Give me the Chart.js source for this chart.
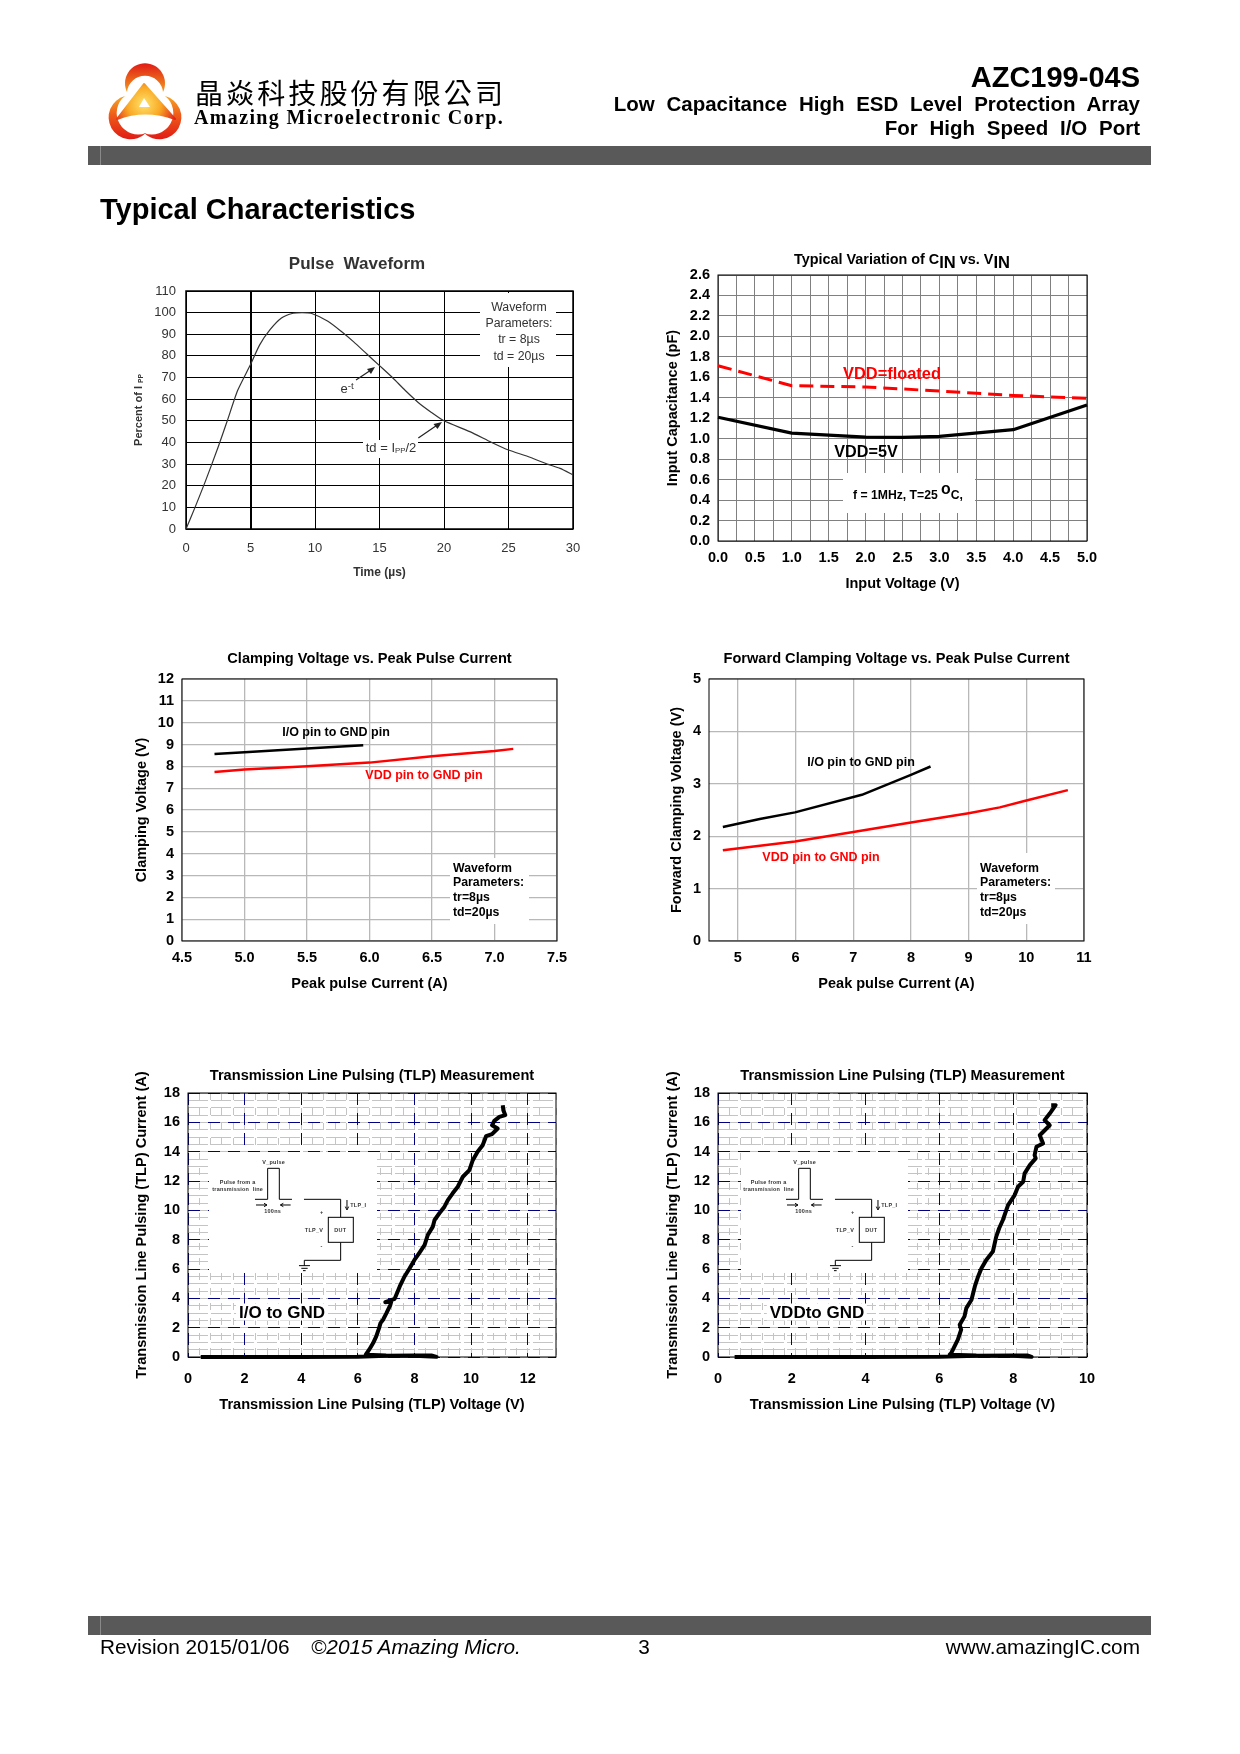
<!DOCTYPE html>
<html>
<head>
<meta charset="utf-8">
<title>AZC199-04S Typical Characteristics</title>
<script src="https://cdn.jsdelivr.net/npm/chart.js@4"></script>
<style>
  html, body { margin: 0; padding: 0; background: #fff; }
  #page { position: relative; width: 1240px; height: 1754px; overflow: hidden; font-family: "Liberation Sans", Arial, sans-serif; color: #000; }
  canvas { position: absolute; z-index: 1; }
  .patch { position: absolute; background: #fff; z-index: 2; }
  #art { position: absolute; left: 0; top: 0; z-index: 3; }
  .note { position: absolute; white-space: nowrap; z-index: 4; line-height: 1; }
  .band { position: absolute; left: 88px; width: 1063px; height: 19px; background: #595959; }
  .band i { position: absolute; left: 12px; top: 0; width: 1px; height: 19px; background: #8a8a8a; }
</style>
</head>
<body>
<div id="page">
  <div class="band" style="top:146px"><i></i></div>
  <div class="band" style="top:1616px"><i></i></div>
  <svg id="art" width="1240" height="1754" viewBox="0 0 1240 1754"></svg>
</div>
<script>
// Pulse waveform
const pulseTime = [0, 0.7, 1.5, 2.5, 3.2, 4, 5, 5.7, 6.5, 7.4, 8.3, 9, 9.7, 11, 12, 13, 14, 15, 16, 17, 18, 19, 20, 22, 23.7, 25, 26.5, 28, 29, 30];
const pulsePercent = [0, 10, 22, 38, 50, 64, 76, 85, 92, 97.5, 99.7, 100, 99.7, 96, 91.5, 86.5, 81, 75.5, 70, 64, 58.5, 54, 50, 45, 40, 36.5, 33.5, 30, 28, 25];

// Input capacitance
const capVoltage = [0, 1, 2, 2.5, 3, 4, 5];
const capVdd5 = [1.21, 1.055, 1.016, 1.013, 1.023, 1.088, 1.33];
const floatVoltage = [0, 1, 2, 3, 4, 5];
const capFloated = [1.713, 1.518, 1.505, 1.466, 1.423, 1.394];

// Clamping voltage
const clampIoCurrent = [4.76, 5.0, 5.5, 5.95];
const clampIoVolts = [8.57, 8.65, 8.82, 8.97];
const clampVddCurrent = [4.76, 5.0, 5.5, 6.0, 6.5, 7.0, 7.15];
const clampVddVolts = [7.74, 7.85, 8.0, 8.17, 8.46, 8.7, 8.8];

// Forward clamping voltage
const fwdIoCurrent = [4.74, 5.38, 5.99, 7.15, 8.0, 8.34];
const fwdIoVolts = [2.175, 2.33, 2.455, 2.79, 3.17, 3.33];
const fwdVddCurrent = [4.74, 5.99, 7.0, 8.0, 9.0, 9.54, 10.0, 10.72];
const fwdVddVolts = [1.73, 1.9, 2.08, 2.26, 2.44, 2.55, 2.68, 2.88];

// TLP, I/O to GND
const tlpIoVolts = [0.45, 2, 4, 6, 7, 8, 8.6, 8.78, 8, 7, 6.28, 6.40, 6.54, 6.65, 6.75, 6.80, 6.89, 7.01, 7.15, 7.18, 6.97, 7.30, 7.36, 7.48, 7.65, 7.83, 8.00, 8.18, 8.36, 8.47, 8.65, 8.71, 8.88, 9.06, 9.18, 9.35, 9.53, 9.71, 9.94, 10.06, 10.23, 10.41, 10.50, 10.53, 10.74, 10.94, 10.74, 10.82, 11.0, 11.21, 11.14, 11.12];
const tlpIoAmps = [0, 0, 0, 0.01, 0.08, 0.1, 0.1, 0.01, 0.08, 0.1, 0.16, 0.50, 0.95, 1.41, 1.97, 2.31, 2.54, 2.99, 3.56, 3.79, 3.74, 3.97, 4.24, 4.81, 5.49, 6.05, 6.62, 7.12, 7.64, 8.32, 8.89, 9.34, 9.80, 10.25, 10.70, 11.16, 11.61, 12.29, 12.74, 13.42, 13.99, 14.44, 14.90, 15.06, 15.19, 15.58, 15.80, 16.10, 16.37, 16.49, 16.83, 17.17];

// TLP, VDD to GND
const tlpVddVolts = [0.45, 2, 4, 6, 7, 8, 8.4, 8.5, 8, 7, 6.28, 6.32, 6.41, 6.50, 6.59, 6.55, 6.68, 6.73, 6.87, 6.96, 7.05, 7.14, 7.27, 7.45, 7.54, 7.62, 7.72, 7.86, 8.04, 8.13, 8.27, 8.31, 8.45, 8.61, 8.58, 8.63, 8.81, 8.72, 8.99, 8.85, 8.99, 9.15, 9.03];
const tlpVddAmps = [0, 0, 0, 0.01, 0.08, 0.1, 0.1, 0.01, 0.08, 0.1, 0.16, 0.27, 0.73, 1.18, 1.86, 2.20, 2.77, 3.33, 3.90, 4.81, 5.49, 6.05, 6.62, 7.19, 8.21, 8.78, 9.34, 10.36, 11.04, 11.61, 11.95, 12.52, 13.08, 13.54, 13.76, 14.33, 14.56, 15.12, 15.80, 16.15, 16.60, 17.17, 17.17];

const FONT = 'Liberation Sans';
const page = document.getElementById('page');
const art = document.getElementById('art');

function xy(xs, ys) {
  return xs.map((x, i) => ({ x: x, y: ys[i] }));
}

function series(xs, ys, color, width, dash, tension) {
  return {
    data: xy(xs, ys), borderColor: color, borderWidth: width, borderDash: dash || [],
    showLine: true, pointRadius: 0, tension: tension || 0, borderJoinStyle: 'round', borderCapStyle: 'butt', clip: false
  };
}

// black frame round the plot
const framePlugin = {
  id: 'frame',
  beforeDatasetsDraw(chart, args, opts) {
    const a = chart.chartArea, c = chart.ctx;
    c.save();
    c.strokeStyle = opts.color || '#000';
    c.lineWidth = opts.width || 1;
    c.strokeRect(a.left, a.top, a.right - a.left, a.bottom - a.top);
    c.restore();
  }
};

// c: plot box l,r,t,b, titleY, xTitleY, yTitleX plus axes
function makeChart(c) {
  const tf = c.titleSize || 14, af = c.axisSize || 14.5, tick = c.tickSize || 14.5;
  const left = c.canvasLeft !== undefined ? c.canvasLeft : Math.round(c.yTitleX - 0.6 * af);
  const top = Math.round(c.titleY - 0.6 * tf);
  const bottom = Math.round(c.xTitleY + 0.6 * af);
  const right = c.r + 26;
  const el = document.createElement('canvas');
  el.width = right - left;
  el.height = bottom - top;
  el.style.left = left + 'px';
  el.style.top = top + 'px';
  page.appendChild(el);

  const fitY = s => { s.width = c.l - left; s.paddingTop = s.paddingBottom = s.paddingLeft = s.paddingRight = 0; };
  const fitX = s => { s.height = bottom - c.b; s.paddingTop = s.paddingBottom = s.paddingLeft = s.paddingRight = 0; };
  const fitNone = s => { s.width = 0; s.height = 0; s.paddingTop = s.paddingBottom = s.paddingLeft = s.paddingRight = 0; };

  const scales = {
    x: {
      type: 'linear', min: c.xMin, max: c.xMax, afterFit: fitX,
      ticks: {
        stepSize: c.xStep, autoSkip: false, maxRotation: 0, includeBounds: false,
        padding: c.xTickPad === undefined ? 8 : c.xTickPad, color: c.tickColor || '#000',
        font: { family: FONT, size: tick, weight: c.tickWeight || 'bold' },
        callback: c.xLabel || (v => v)
      },
      grid: { color: c.xGridColor || c.gridColor, lineWidth: c.xGridWidth || c.gridWidth || 1, drawTicks: false },
      border: { display: false, dash: c.majorDash || [] },
      title: { display: true, text: c.xTitle, color: c.axisColor || '#000', padding: 0, font: { family: FONT, size: af, weight: 'bold' } }
    },
    y: {
      type: 'linear', min: c.yMin, max: c.yMax, afterFit: fitY,
      ticks: {
        stepSize: c.yStep, autoSkip: false, includeBounds: false,
        padding: c.yTickPad === undefined ? 8 : c.yTickPad, color: c.tickColor || '#000',
        font: { family: FONT, size: tick, weight: c.tickWeight || 'bold' },
        callback: c.yLabel || (v => v)
      },
      grid: { color: c.gridColor, lineWidth: c.gridWidth || 1, drawTicks: false },
      border: { display: false, dash: c.majorDash || [] },
      title: { display: !!c.yTitle, text: c.yTitle, color: c.axisColor || '#000', padding: 0, font: { family: FONT, size: af, weight: 'bold' } }
    }
  };
  if (c.minorXStep) {
    scales.x2 = {
      type: 'linear', position: 'bottom', min: c.xMin, max: c.xMax, afterFit: fitNone,
      ticks: { display: false, stepSize: c.minorXStep, autoSkip: false },
      grid: { color: '#c4c4c4', lineWidth: 1, drawTicks: false, z: -2 },
      border: { display: false, dash: [7, 8] }
    };
    scales.y2 = {
      type: 'linear', position: 'left', min: c.yMin, max: c.yMax, afterFit: fitNone,
      ticks: { display: false, stepSize: c.minorYStep, autoSkip: false },
      grid: { color: '#c4c4c4', lineWidth: 1, drawTicks: false, z: -2 },
      border: { display: false, dash: [20, 3] }
    };
  }

  const titleBlock = 1.2 * tf;
  return new Chart(el.getContext('2d'), {
    type: 'scatter',
    data: { datasets: c.datasets },
    options: {
      responsive: false, animation: false, events: [],
      layout: { padding: { left: 0, right: right - c.r, bottom: 0, top: c.title ? 0 : c.t - top } },
      plugins: {
        legend: { display: false },
        tooltip: { enabled: false },
        frame: { color: '#000', width: c.frameWidth || 1 },
        title: {
          display: !!c.title, text: c.title, fullSize: !!c.titleFull, color: c.titleColor || '#000',
          padding: { top: 0, bottom: c.t - top - titleBlock },
          font: { family: FONT, size: tf, weight: 'bold' }
        }
      },
      scales: scales
    },
    plugins: [framePlugin]
  });
}

function note(html, x, y, o) {
  o = o || {};
  const d = document.createElement('div');
  d.className = 'note';
  d.innerHTML = html;
  const ax = { left: '0', center: '-50%', right: '-100%' }[o.align || 'center'];
  d.style.left = x + 'px';
  d.style.top = y + 'px';
  d.style.transform = 'translate(' + ax + ',-50%)' + (o.rotate ? ' rotate(' + o.rotate + 'deg)' : '');
  d.style.fontSize = (o.size || 12) + 'px';
  d.style.fontWeight = o.weight || 'bold';
  d.style.color = o.color || '#000';
  if (o.family) d.style.fontFamily = o.family;
  if (o.italic) d.style.fontStyle = 'italic';
  if (o.word) d.style.wordSpacing = o.word + 'px';
  if (o.spacing) d.style.letterSpacing = o.spacing + 'px';
  if (o.bg) { d.style.background = o.bg; d.style.padding = '0 3px'; }
  page.appendChild(d);
}

function patch(x1, y1, x2, y2) {
  const d = document.createElement('div');
  d.className = 'patch';
  d.style.cssText = 'left:' + x1 + 'px;top:' + y1 + 'px;width:' + (x2 - x1) + 'px;height:' + (y2 - y1) + 'px';
  page.appendChild(d);
}

// chart 1
makeChart({
  canvasLeft: 141, titleFull: true,
  l: 186, r: 573, t: 291, b: 529,
  title: 'Pulse  Waveform', titleSize: 17, titleY: 264, titleColor: '#333',
  xTitle: 'Time (\u00b5s)', axisSize: 12, xTitleY: 573, axisColor: '#333',
  tickSize: 13, tickWeight: 'normal', tickColor: '#333', xTickPad: 12, yTickPad: 10, frameWidth: 1.5,
  xMin: 0, xMax: 30, xStep: 5, yMin: 0, yMax: 110, yStep: 10,
  gridColor: '#000',
  xGridColor: ctx => '#000',
  xGridWidth: ctx => (ctx.tick && ctx.tick.value === 5 ? 2 : 1),
  datasets: [series(pulseTime, pulsePercent, '#333', 1.2, null, 0.2)]
});

// chart 2
makeChart({
  l: 718, r: 1087, t: 275, b: 541,
  titleY: 260, xTitleY: 584, yTitleX: 673,
  xTitle: 'Input Voltage (V)', yTitle: 'Input Capacitance (pF)',
  xMin: 0, xMax: 5, xStep: 0.25, yMin: 0, yMax: 2.6, yStep: 0.2,
  xLabel: v => (Math.round(v * 4) % 2 === 0 ? v.toFixed(1) : ''),
  yLabel: v => v.toFixed(1),
  gridColor: '#808080',
  datasets: [
    series(capVoltage, capVdd5, '#000', 3.2),
    series(floatVoltage, capFloated, '#ff0000', 3, [14, 7])
  ]
});

// chart 3
makeChart({
  l: 182, r: 557, t: 679, b: 941,
  title: 'Clamping Voltage vs. Peak Pulse Current', titleSize: 14.6, titleY: 659, xTitleY: 984, yTitleX: 142,
  xTitle: 'Peak pulse Current (A)', yTitle: 'Clamping Voltage (V)',
  xMin: 4.5, xMax: 7.5, xStep: 0.5, yMin: 0, yMax: 12, yStep: 1,
  xLabel: v => v.toFixed(1),
  gridColor: '#b8b8b8', gridWidth: 1.3,
  datasets: [
    series(clampIoCurrent, clampIoVolts, '#000', 2.5),
    series(clampVddCurrent, clampVddVolts, '#ff0000', 2.5)
  ]
});

// chart 4
makeChart({
  l: 709, r: 1084, t: 679, b: 941,
  title: 'Forward Clamping Voltage vs. Peak Pulse Current', titleSize: 14.6, titleY: 659, xTitleY: 984, yTitleX: 677,
  xTitle: 'Peak pulse Current (A)', yTitle: 'Forward Clamping Voltage (V)',
  xMin: 4.5, xMax: 11, xStep: 1, yMin: 0, yMax: 5, yStep: 1,
  gridColor: '#b8b8b8', gridWidth: 1.3,
  datasets: [
    series(fwdIoCurrent, fwdIoVolts, '#000', 2.5),
    series(fwdVddCurrent, fwdVddVolts, '#ff0000', 2.5)
  ]
});

// chart 5
makeChart({
  l: 188, r: 556, t: 1093, b: 1357,
  title: 'Transmission Line Pulsing (TLP) Measurement', titleSize: 14.6, titleY: 1076, xTitleY: 1405, yTitleX: 142, axisSize: 14.6, xTickPad: 13,
  xTitle: 'Transmission Line Pulsing (TLP) Voltage (V)', yTitle: 'Transmission Line Pulsing (TLP) Current (A)',
  xMin: 0, xMax: 13, xStep: 2, yMin: 0, yMax: 18, yStep: 2, minorXStep: 0.4, minorYStep: 0.5,
  gridColor: '#000080', gridWidth: 1, majorDash: [12, 8],
  datasets: [series(tlpIoVolts, tlpIoAmps, '#000', 4)]
});

// chart 6
makeChart({
  l: 718, r: 1087, t: 1093, b: 1357,
  title: 'Transmission Line Pulsing (TLP) Measurement', titleSize: 14.6, titleY: 1076, xTitleY: 1405, yTitleX: 673, axisSize: 14.6, xTickPad: 13,
  xTitle: 'Transmission Line Pulsing (TLP) Voltage (V)', yTitle: 'Transmission Line Pulsing (TLP) Current (A)',
  xMin: 0, xMax: 10, xStep: 2, yMin: 0, yMax: 18, yStep: 2, minorXStep: 0.3, minorYStep: 0.5,
  gridColor: '#000080', gridWidth: 1, majorDash: [12, 8],
  datasets: [series(tlpVddVolts, tlpVddAmps, '#000', 4)]
});

// white boxes behind the notes
patch(480, 293, 556, 367);
patch(363, 440, 418, 458);
patch(843, 473, 975, 513);
patch(450, 858, 529, 924);
patch(977, 853, 1055, 924);
patch(209, 1153, 377, 1273);
patch(741, 1153, 908, 1273);

// schematic in the TLP plots, drawn in 3x crop units
function schematic(tx, ty) {
  const lines = [
    'M405 418H443V325H478V418H516', 'M552 418H662V472', 'M662 547V601H553V617',
    'M537 617H570', 'M544 625H563', 'M549 632H557',
    'M681 420V445', 'M676 440L681 450L686 440',
    'M408 435H440', 'M432 430L441 435L432 440', 'M512 435H482', 'M490 430L481 435L490 440'
  ];
  const labels = [
    ['V_pulse', 461, 312], ['Pulse from a', 353, 371], ['transmission  line', 353, 393],
    ['100ns', 458, 459], ['TLP_I', 715, 440], ['+', 605, 461],
    ['TLP_V', 582, 515], ['DUT', 661, 515], ['-', 605, 565]
  ];
  let s = '<g transform="translate(' + tx + ',' + ty + ') scale(0.3333)">';
  s += '<path d="' + lines.join(' ') + '" fill="none" stroke="#000" stroke-width="3"/>';
  s += '<rect x="625" y="472" width="75" height="75" fill="#fff" stroke="#000" stroke-width="3"/>';
  labels.forEach(l => {
    s += '<text x="' + l[1] + '" y="' + l[2] + '" text-anchor="middle" font-family="' + FONT + '" font-size="16.5" letter-spacing="0.7" font-weight="bold" fill="#333" xml:space="preserve">' + l[0] + '</text>';
  });
  return s + '</g>';
}

// logo and the small arrows
art.innerHTML = `
  <defs>
    <radialGradient id="tri" gradientUnits="userSpaceOnUse" cx="144" cy="104" r="34">
      <stop offset="0" stop-color="#ffe36a"/><stop offset="0.5" stop-color="#f9a825"/><stop offset="1" stop-color="#e0201a"/>
    </radialGradient>
    <linearGradient id="ring" x1="0" y1="0" x2="0" y2="1">
      <stop offset="0" stop-color="#e01b16"/><stop offset="1" stop-color="#f39c1f"/>
    </linearGradient>
    <linearGradient id="ringB" x1="0" y1="1" x2="0" y2="0">
      <stop offset="0" stop-color="#e01b16"/><stop offset="0.55" stop-color="#ee5a1a"/><stop offset="1" stop-color="#f6a623"/>
    </linearGradient>
  </defs>
  <path d="M127 92 A20 20 0 1 1 163 92 A18.1 18.1 0 0 0 127 92Z" fill="url(#ring)"/>
  <path d="M125 96 A22 22 0 1 0 146 133 A21.5 21.5 0 0 1 125 96Z" fill="url(#ringB)"/>
  <path d="M165 96 A22 22 0 1 1 144 133 A21.5 21.5 0 0 0 165 96Z" fill="url(#ringB)"/>
  <path d="M144 84 L175 119 Q145 108 117 119Z" fill="url(#tri)" stroke="url(#tri)" stroke-linejoin="round" stroke-width="2"/>
  <path d="M144 98 L150 107 L139 107 Z" fill="#fff"/>
  <path d="M356 380 L371 370" fill="none" stroke="#222" stroke-width="1.2"/>
  <path d="M375 367 L367 369 L371 374 Z" fill="#222"/>
  <path d="M418.3 438 L438 424.5" fill="none" stroke="#222" stroke-width="1.2"/>
  <path d="M442 422 L433.5 424 L437.5 429 Z" fill="#222"/>
  ${schematic(120, 1060)}${schematic(651, 1060)}
`;

// page header
note('晶焱科技股份有限公司', 195, 92, { size: 28, align: 'left', weight: 'normal', family: '"Noto Sans CJK TC"', spacing: 3.1 });
note('Amazing Microelectronic Corp.', 194, 117, { size: 20, align: 'left', family: '"Liberation Serif"', spacing: 1.35 });
note('AZC199-04S', 1140, 77, { size: 29, align: 'right' });
note('Low Capacitance High ESD Level Protection Array', 1140, 104, { size: 20.5, align: 'right', word: 6 });
note('For High Speed I/O Port', 1140, 128, { size: 20.5, align: 'right', word: 6 });
note('Typical Characteristics', 100, 209, { size: 29, align: 'left' });

// page footer
note('Revision 2015/01/06', 100, 1647, { size: 20.8, align: 'left', weight: 'normal' });
note('©2015 Amazing Micro.', 311, 1647, { size: 20.8, align: 'left', weight: 'normal', italic: true });
note('3', 644, 1647, { size: 20.8, weight: 'normal' });
note('www.amazingIC.com', 1140, 1647, { size: 20.8, align: 'right', weight: 'normal' });

// chart 1 notes
const sub = t => '<span style="font-size:0.6em;vertical-align:-0.2em">' + t + '</span>';
const sup = t => '<span style="font-size:0.75em;vertical-align:0.5em">' + t + '</span>';
note('Percent of I ' + sub('PP'), 139, 410, { size: 11, rotate: -90, color: '#333' });
['Waveform', 'Parameters:', 'tr = 8\u00b5s', 'td = 20\u00b5s'].forEach((t, i) => {
  note(t, 519, 307 + i * 16.2, { size: 12.3, weight: 'normal', color: '#333' });
});
note('e' + sup('-t'), 347, 388, { size: 13, weight: 'normal', color: '#333' });
note('td = I' + sub('PP') + '/2', 391, 448, { size: 13, weight: 'normal', color: '#333' });

// chart 2 notes
note('Typical Variation of C' + '<span style="font-size:1.15em;vertical-align:-0.25em">IN</span>' + ' vs. V' + '<span style="font-size:1.15em;vertical-align:-0.25em">IN</span>', 902, 262, { size: 14.4 });
note('VDD=floated', 892, 373, { size: 16.4, color: '#ff0000' });
note('VDD=5V', 866, 451, { size: 16.2 });
note('f = 1MHz, T=25 ' + '<span style="font-size:1.3em;vertical-align:0.35em">o</span>' + 'C,', 908, 491, { size: 12.2 });

// chart 3 and 4 notes
note('I/O pin to GND pin', 336, 732, { size: 12.5 });
note('VDD pin to GND pin', 424, 775, { size: 12.5, color: '#ff0000' });
note('I/O pin to GND pin', 861, 762, { size: 12.5 });
note('VDD pin to GND pin', 821, 857, { size: 12.5, color: '#ff0000' });
['Waveform', 'Parameters:', 'tr=8\u00b5s', 'td=20\u00b5s'].forEach((t, i) => {
  const y = [868, 882, 897, 912][i];
  note(t, 453, y, { size: 12.3, align: 'left' });
  note(t, 980, y, { size: 12.3, align: 'left' });
});

// chart 5 and 6 notes
note('I/O to GND', 282, 1312, { size: 17, bg: '#fff' });
note('VDDto GND', 817, 1312, { size: 17, bg: '#fff' });
</script>
</body>
</html>
